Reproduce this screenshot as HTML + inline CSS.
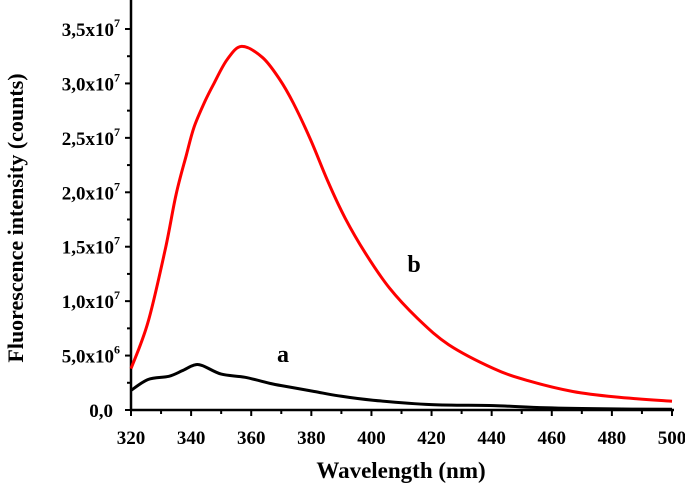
<!DOCTYPE html>
<html><head><meta charset="utf-8"><style>
html,body{margin:0;padding:0;background:#fff;}
svg{display:block;font-family:"Liberation Serif",serif;font-weight:bold;}
</style></head><body>
<svg id="chart" width="685" height="489" viewBox="0 0 685 489"></svg>
<script>
const wlB=[320,325.7,331.5,335,338.4,341,344.7,347.6,352,356.8,363.7,369.4,374,379.8,385.5,391.3,398,406,415.4,425.7,440.7,452,467,481,500];
const valB=[0.38,0.81,1.49,1.98,2.34,2.6,2.84,3.0,3.22,3.34,3.24,3.04,2.82,2.48,2.1,1.76,1.44,1.12,0.84,0.60,0.38,0.27,0.17,0.12,0.08];
const wlA=[320,325.7,332.6,337,340.7,343.6,350,358,367,372.9,381,389,400.5,420,440.7,458,480,500];
const valA=[0.18,0.28,0.31,0.36,0.41,0.41,0.33,0.30,0.24,0.21,0.17,0.13,0.09,0.05,0.04,0.02,0.01,0.006];
const xTicks=[320,340,360,380,400,420,440,460,480,500];
const yTicks=[0,0.5,1,1.5,2,2.5,3,3.5];
const yMant=["0,0","5,0","1,0","1,5","2,0","2,5","3,0","3,5"];
const yExp=["","6","7","7","7","7","7","7"];
const NS="http://www.w3.org/2000/svg";
const svg=document.getElementById('chart');
const X0=131,X1=672,Y0=410,Y1=29;
const xs=v=>X0+(v-320)/180*(X1-X0);
const ys=v=>Y0-v/3.5*(Y0-Y1);
function mk(t,a,txt){const e=document.createElementNS(NS,t);for(const k in a)e.setAttribute(k,a[k]);if(txt!=null)e.textContent=txt;svg.appendChild(e);return e;}
let e=mk('line',{x1:X0,y1:0,x2:X0,y2:Y0+1,stroke:'#000','stroke-width':2.5});


e=mk('line',{x1:X0-1,y1:Y0,x2:X1+2,y2:Y0,stroke:'#000','stroke-width':2.5});


for(let v=320;v<=500;v+=10){const maj=(v%20===0);
 e=mk('line',{x1:xs(v),y1:Y0,x2:xs(v),y2:Y0+(maj?6:4),stroke:'#000','stroke-width':2});
 
 }
xTicks.forEach(v=>{e=mk('text',{x:xs(v),y:444,'text-anchor':'middle','font-size':19},String(v));
 
 });
for(let i=0;i<=14;i++){const v=i*0.25;const maj=(i%2===0);
 e=mk('line',{x1:X0,y1:ys(v),x2:X0-(maj?6:4),y2:ys(v),stroke:'#000','stroke-width':2});
 
 }
yTicks.forEach((v,i)=>{
 const t=mk('text',{x:113,y:ys(v)+7,'text-anchor':'end','font-size':19},null);
 
 
 if(i===0){t.textContent=yMant[i];}
 else{t.textContent=yMant[i]+'x10';
  const s=document.createElementNS(NS,'tspan');s.setAttribute('font-size',12);s.setAttribute('dy',-9);s.textContent=yExp[i];t.appendChild(s);
  t.setAttribute('x',120);}
});
e=mk('text',{x:401,y:478,'text-anchor':'middle','font-size':23},'Wavelength (nm)');


e=mk('text',{x:0,y:0,'text-anchor':'middle','font-size':22,transform:'translate(23,218) rotate(-90)'},'Fluorescence intensity (counts)');


function line(w,v,c,n){
 const P=w.map((x,i)=>[xs(x),ys(v[i])]);
 let d='M'+P[0][0].toFixed(1)+','+P[0][1].toFixed(1);
 for(let i=0;i<P.length-1;i++){
  const p0=P[i-1]||P[i],p1=P[i],p2=P[i+1],p3=P[i+2]||P[i+1];
  const c1=[p1[0]+(p2[0]-p0[0])/6,p1[1]+(p2[1]-p0[1])/6];
  const c2=[p2[0]-(p3[0]-p1[0])/6,p2[1]-(p3[1]-p1[1])/6];
  d+='C'+c1[0].toFixed(1)+','+c1[1].toFixed(1)+' '+c2[0].toFixed(1)+','+c2[1].toFixed(1)+' '+p2[0].toFixed(1)+','+p2[1].toFixed(1);
 }
 const p=mk('path',{d:d,fill:'none',stroke:c,'stroke-width':3,'stroke-linejoin':'round'});
 
 }
line(wlA,valA,'#000','series-a-line');
line(wlB,valB,'#f00','series-b-line');
e=mk('text',{x:414,y:272,'text-anchor':'middle','font-size':24},'b');


e=mk('text',{x:283,y:362,'text-anchor':'middle','font-size':24},'a');


</script>
</body></html>
